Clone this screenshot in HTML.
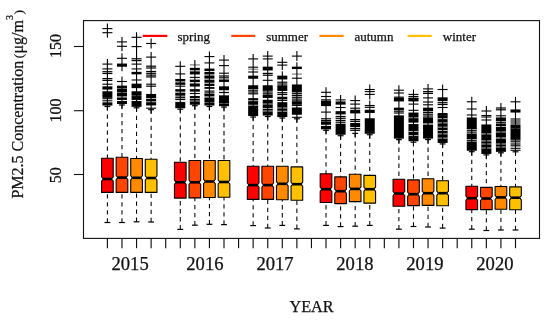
<!DOCTYPE html>
<html><head><meta charset="utf-8"><title>PM2.5 boxplot</title>
<style>
html,body{margin:0;padding:0;background:#fff;}
svg{display:block;}
text{font-family:"Liberation Serif","Times New Roman",serif;fill:#111;stroke:#111;stroke-width:0.25px;}
</style></head><body>
<svg width="550" height="325" viewBox="0 0 550 325">
<rect x="0" y="0" width="550" height="325" fill="#fff"/>
<rect x="83.5" y="20.6" width="456" height="217.8" fill="none" stroke="#111" stroke-width="1.1"/>
<line x1="74" y1="46.5" x2="83.5" y2="46.5" stroke="#111" stroke-width="1.1"/>
<line x1="74" y1="110.7" x2="83.5" y2="110.7" stroke="#111" stroke-width="1.1"/>
<line x1="74" y1="174.5" x2="83.5" y2="174.5" stroke="#111" stroke-width="1.1"/>
<line x1="107.4" y1="238.4" x2="107.4" y2="248.2" stroke="#111" stroke-width="1.15"/>
<line x1="121.98" y1="238.4" x2="121.98" y2="248.2" stroke="#111" stroke-width="1.15"/>
<line x1="136.55" y1="238.4" x2="136.55" y2="248.2" stroke="#111" stroke-width="1.15"/>
<line x1="151.12" y1="238.4" x2="151.12" y2="248.2" stroke="#111" stroke-width="1.15"/>
<line x1="165.7" y1="238.4" x2="165.7" y2="248.2" stroke="#111" stroke-width="1.15"/>
<line x1="180.28" y1="238.4" x2="180.28" y2="248.2" stroke="#111" stroke-width="1.15"/>
<line x1="194.85" y1="238.4" x2="194.85" y2="248.2" stroke="#111" stroke-width="1.15"/>
<line x1="209.43" y1="238.4" x2="209.43" y2="248.2" stroke="#111" stroke-width="1.15"/>
<line x1="224" y1="238.4" x2="224" y2="248.2" stroke="#111" stroke-width="1.15"/>
<line x1="238.57" y1="238.4" x2="238.57" y2="248.2" stroke="#111" stroke-width="1.15"/>
<line x1="253.15" y1="238.4" x2="253.15" y2="248.2" stroke="#111" stroke-width="1.15"/>
<line x1="267.73" y1="238.4" x2="267.73" y2="248.2" stroke="#111" stroke-width="1.15"/>
<line x1="282.3" y1="238.4" x2="282.3" y2="248.2" stroke="#111" stroke-width="1.15"/>
<line x1="296.88" y1="238.4" x2="296.88" y2="248.2" stroke="#111" stroke-width="1.15"/>
<line x1="311.45" y1="238.4" x2="311.45" y2="248.2" stroke="#111" stroke-width="1.15"/>
<line x1="326.02" y1="238.4" x2="326.02" y2="248.2" stroke="#111" stroke-width="1.15"/>
<line x1="340.6" y1="238.4" x2="340.6" y2="248.2" stroke="#111" stroke-width="1.15"/>
<line x1="355.17" y1="238.4" x2="355.17" y2="248.2" stroke="#111" stroke-width="1.15"/>
<line x1="369.75" y1="238.4" x2="369.75" y2="248.2" stroke="#111" stroke-width="1.15"/>
<line x1="384.33" y1="238.4" x2="384.33" y2="248.2" stroke="#111" stroke-width="1.15"/>
<line x1="398.9" y1="238.4" x2="398.9" y2="248.2" stroke="#111" stroke-width="1.15"/>
<line x1="413.48" y1="238.4" x2="413.48" y2="248.2" stroke="#111" stroke-width="1.15"/>
<line x1="428.05" y1="238.4" x2="428.05" y2="248.2" stroke="#111" stroke-width="1.15"/>
<line x1="442.62" y1="238.4" x2="442.62" y2="248.2" stroke="#111" stroke-width="1.15"/>
<line x1="457.2" y1="238.4" x2="457.2" y2="248.2" stroke="#111" stroke-width="1.15"/>
<line x1="471.77" y1="238.4" x2="471.77" y2="248.2" stroke="#111" stroke-width="1.15"/>
<line x1="486.35" y1="238.4" x2="486.35" y2="248.2" stroke="#111" stroke-width="1.15"/>
<line x1="500.92" y1="238.4" x2="500.92" y2="248.2" stroke="#111" stroke-width="1.15"/>
<line x1="515.5" y1="238.4" x2="515.5" y2="248.2" stroke="#111" stroke-width="1.15"/>
<line x1="107.4" y1="222.5" x2="107.4" y2="192.4" stroke="#000" stroke-width="1.05" stroke-dasharray="4.3,3.7"/>
<line x1="107.4" y1="106.5" x2="107.4" y2="158.2" stroke="#000" stroke-width="1.05" stroke-dasharray="4.3,3.7"/>
<line x1="104.48" y1="222.5" x2="110.32" y2="222.5" stroke="#000" stroke-width="1.2"/>
<line x1="104.48" y1="106.5" x2="110.32" y2="106.5" stroke="#000" stroke-width="1.2"/>
<polygon points="101.57,192.4 113.23,192.4 113.23,181.1 111.53,179 113.23,176.9 113.23,158.2 101.57,158.2 101.57,176.9 103.27,179 101.57,181.1" fill="#ff0000" stroke="#000" stroke-width="1.1" stroke-linejoin="round"/>
<line x1="103.27" y1="179" x2="111.53" y2="179" stroke="#000" stroke-width="2.6"/>
<rect x="102.4" y="28.05" width="10" height="1.1" fill="#000"/>
<rect x="102.4" y="32.15" width="10" height="1.1" fill="#000"/>
<rect x="102.4" y="63.55" width="10" height="1.1" fill="#000"/>
<rect x="102.4" y="68.35" width="10" height="1.1" fill="#000"/>
<rect x="102.4" y="71.1" width="10" height="1.2" fill="#000"/>
<rect x="102.4" y="72.9" width="10" height="1.2" fill="#000"/>
<rect x="102.4" y="78" width="10" height="1.2" fill="#000"/>
<rect x="102.4" y="79.8" width="10" height="1.2" fill="#000"/>
<rect x="102.4" y="83.65" width="10" height="1.1" fill="#000"/>
<rect x="102.4" y="86.35" width="10" height="3.2" fill="#000"/>
<rect x="102.4" y="91.25" width="10" height="6.6" fill="#000"/>
<rect x="102.4" y="98.15" width="10" height="1.1" fill="#000"/>
<rect x="102.4" y="100.25" width="10" height="1.1" fill="#000"/>
<rect x="102.4" y="102.35" width="10" height="3.2" fill="#000"/>
<line x1="107.4" y1="23.6" x2="107.4" y2="37.7" stroke="#000" stroke-width="1.1"/>
<line x1="107.4" y1="59.1" x2="107.4" y2="110" stroke="#000" stroke-width="1.1"/>
<line x1="121.98" y1="222.5" x2="121.98" y2="192.4" stroke="#000" stroke-width="1.05" stroke-dasharray="4.3,3.7"/>
<line x1="121.98" y1="105" x2="121.98" y2="157.3" stroke="#000" stroke-width="1.05" stroke-dasharray="4.3,3.7"/>
<line x1="119.06" y1="222.5" x2="124.89" y2="222.5" stroke="#000" stroke-width="1.2"/>
<line x1="119.06" y1="105" x2="124.89" y2="105" stroke="#000" stroke-width="1.2"/>
<polygon points="116.15,192.4 127.81,192.4 127.81,179.7 126.11,177.6 127.81,175.5 127.81,157.3 116.15,157.3 116.15,175.5 117.85,177.6 116.15,179.7" fill="#ff4500" stroke="#000" stroke-width="1.1" stroke-linejoin="round"/>
<line x1="117.85" y1="177.6" x2="126.11" y2="177.6" stroke="#000" stroke-width="2.6"/>
<rect x="116.98" y="41.35" width="10" height="1.1" fill="#000"/>
<rect x="116.98" y="45.75" width="10" height="1.1" fill="#000"/>
<rect x="116.98" y="57.75" width="10" height="1.1" fill="#000"/>
<rect x="116.98" y="63.55" width="10" height="3.2" fill="#000"/>
<rect x="116.98" y="80.95" width="10" height="1.1" fill="#000"/>
<rect x="116.98" y="85.65" width="10" height="2.5" fill="#000"/>
<rect x="116.98" y="88.45" width="10" height="3.9" fill="#000"/>
<rect x="116.98" y="92.65" width="10" height="3.8" fill="#000"/>
<rect x="116.98" y="97.45" width="10" height="2.5" fill="#000"/>
<rect x="116.98" y="100.95" width="10" height="3.1" fill="#000"/>
<line x1="121.98" y1="36.9" x2="121.98" y2="51.3" stroke="#000" stroke-width="1.1"/>
<line x1="121.98" y1="53.3" x2="121.98" y2="71.2" stroke="#000" stroke-width="1.1"/>
<line x1="121.98" y1="76.5" x2="121.98" y2="108.5" stroke="#000" stroke-width="1.1"/>
<line x1="136.55" y1="221.8" x2="136.55" y2="192.4" stroke="#000" stroke-width="1.05" stroke-dasharray="4.3,3.7"/>
<line x1="136.55" y1="107.8" x2="136.55" y2="158.5" stroke="#000" stroke-width="1.05" stroke-dasharray="4.3,3.7"/>
<line x1="133.64" y1="221.8" x2="139.47" y2="221.8" stroke="#000" stroke-width="1.2"/>
<line x1="133.64" y1="107.8" x2="139.47" y2="107.8" stroke="#000" stroke-width="1.2"/>
<polygon points="130.72,192.4 142.38,192.4 142.38,179.9 140.68,177.8 142.38,175.7 142.38,158.5 130.72,158.5 130.72,175.7 132.42,177.8 130.72,179.9" fill="#ff8a00" stroke="#000" stroke-width="1.1" stroke-linejoin="round"/>
<line x1="132.42" y1="177.8" x2="140.68" y2="177.8" stroke="#000" stroke-width="2.6"/>
<rect x="131.55" y="36.75" width="10" height="1.1" fill="#000"/>
<rect x="131.55" y="46.05" width="10" height="1.1" fill="#000"/>
<rect x="131.55" y="58.2" width="10" height="1.2" fill="#000"/>
<rect x="131.55" y="60" width="10" height="1.2" fill="#000"/>
<rect x="131.55" y="63.55" width="10" height="1.1" fill="#000"/>
<rect x="131.55" y="68.35" width="10" height="1.1" fill="#000"/>
<rect x="131.55" y="71.85" width="10" height="2.5" fill="#000"/>
<rect x="131.55" y="79.45" width="10" height="1.1" fill="#000"/>
<rect x="131.55" y="83.65" width="10" height="4.5" fill="#000"/>
<rect x="131.55" y="91.25" width="10" height="4.5" fill="#000"/>
<rect x="131.55" y="96.05" width="10" height="3.9" fill="#000"/>
<rect x="131.55" y="100.95" width="10" height="5.9" fill="#000"/>
<line x1="136.55" y1="32.3" x2="136.55" y2="111.3" stroke="#000" stroke-width="1.1"/>
<line x1="151.12" y1="222" x2="151.12" y2="192.4" stroke="#000" stroke-width="1.05" stroke-dasharray="4.3,3.7"/>
<line x1="151.12" y1="109.7" x2="151.12" y2="159.3" stroke="#000" stroke-width="1.05" stroke-dasharray="4.3,3.7"/>
<line x1="148.21" y1="222" x2="154.04" y2="222" stroke="#000" stroke-width="1.2"/>
<line x1="148.21" y1="109.7" x2="154.04" y2="109.7" stroke="#000" stroke-width="1.2"/>
<polygon points="145.29,192.4 156.96,192.4 156.96,180.1 155.26,178 156.96,175.9 156.96,159.3 145.29,159.3 145.29,175.9 146.99,178 145.29,180.1" fill="#ffc000" stroke="#000" stroke-width="1.1" stroke-linejoin="round"/>
<line x1="146.99" y1="178" x2="155.26" y2="178" stroke="#000" stroke-width="2.6"/>
<rect x="146.12" y="42.95" width="10" height="1.1" fill="#000"/>
<rect x="146.12" y="56.55" width="10" height="1.1" fill="#000"/>
<rect x="146.12" y="65.6" width="10" height="1.2" fill="#000"/>
<rect x="146.12" y="67.4" width="10" height="1.2" fill="#000"/>
<rect x="146.12" y="70.9" width="10" height="1.2" fill="#000"/>
<rect x="146.12" y="72.7" width="10" height="1.2" fill="#000"/>
<rect x="146.12" y="74.5" width="10" height="1.2" fill="#000"/>
<rect x="146.12" y="76.3" width="10" height="1.2" fill="#000"/>
<rect x="146.12" y="83.65" width="10" height="1.1" fill="#000"/>
<rect x="146.12" y="85.6" width="10" height="1.2" fill="#000"/>
<rect x="146.12" y="93.95" width="10" height="11.5" fill="#000"/>
<rect x="146.12" y="107.65" width="10" height="1.1" fill="#000"/>
<rect x="146.12" y="98.05" width="10" height="0.9" fill="#fff" fill-opacity="0.8"/>
<rect x="146.12" y="101.35" width="10" height="0.9" fill="#fff" fill-opacity="0.8"/>
<line x1="151.12" y1="38.5" x2="151.12" y2="48.5" stroke="#000" stroke-width="1.1"/>
<line x1="151.12" y1="52.1" x2="151.12" y2="113.2" stroke="#000" stroke-width="1.1"/>
<line x1="180.28" y1="229.4" x2="180.28" y2="198.1" stroke="#000" stroke-width="1.05" stroke-dasharray="4.3,3.7"/>
<line x1="180.28" y1="109.2" x2="180.28" y2="162.3" stroke="#000" stroke-width="1.05" stroke-dasharray="4.3,3.7"/>
<line x1="177.36" y1="229.4" x2="183.19" y2="229.4" stroke="#000" stroke-width="1.2"/>
<line x1="177.36" y1="109.2" x2="183.19" y2="109.2" stroke="#000" stroke-width="1.2"/>
<polygon points="174.44,198.1 186.11,198.1 186.11,184.4 184.41,182.3 186.11,180.2 186.11,162.3 174.44,162.3 174.44,180.2 176.14,182.3 174.44,184.4" fill="#ff0000" stroke="#000" stroke-width="1.1" stroke-linejoin="round"/>
<line x1="176.14" y1="182.3" x2="184.41" y2="182.3" stroke="#000" stroke-width="2.6"/>
<rect x="175.28" y="65.75" width="10" height="1.1" fill="#000"/>
<rect x="175.28" y="73.35" width="10" height="1.1" fill="#000"/>
<rect x="175.28" y="78.95" width="10" height="2.5" fill="#000"/>
<rect x="175.28" y="82.35" width="10" height="2.5" fill="#000"/>
<rect x="175.28" y="85.65" width="10" height="1.1" fill="#000"/>
<rect x="175.28" y="89.15" width="10" height="2.5" fill="#000"/>
<rect x="175.28" y="92.65" width="10" height="2.4" fill="#000"/>
<rect x="175.28" y="95.3" width="10" height="1.2" fill="#000"/>
<rect x="175.28" y="97.1" width="10" height="1.2" fill="#000"/>
<rect x="175.28" y="98.9" width="10" height="1.2" fill="#000"/>
<rect x="175.28" y="101.65" width="10" height="6.6" fill="#000"/>
<rect x="175.28" y="101.15" width="10" height="0.9" fill="#fff" fill-opacity="0.8"/>
<line x1="180.28" y1="61.3" x2="180.28" y2="112.7" stroke="#000" stroke-width="1.1"/>
<line x1="194.85" y1="225.2" x2="194.85" y2="197.9" stroke="#000" stroke-width="1.05" stroke-dasharray="4.3,3.7"/>
<line x1="194.85" y1="105.7" x2="194.85" y2="160.5" stroke="#000" stroke-width="1.05" stroke-dasharray="4.3,3.7"/>
<line x1="191.94" y1="225.2" x2="197.76" y2="225.2" stroke="#000" stroke-width="1.2"/>
<line x1="191.94" y1="105.7" x2="197.76" y2="105.7" stroke="#000" stroke-width="1.2"/>
<polygon points="189.02,197.9 200.68,197.9 200.68,184.4 198.98,182.3 200.68,180.2 200.68,160.5 189.02,160.5 189.02,180.2 190.72,182.3 189.02,184.4" fill="#ff4500" stroke="#000" stroke-width="1.1" stroke-linejoin="round"/>
<line x1="190.72" y1="182.3" x2="198.98" y2="182.3" stroke="#000" stroke-width="2.6"/>
<rect x="189.85" y="64.35" width="10" height="1.1" fill="#777"/>
<rect x="189.85" y="67.85" width="10" height="2.5" fill="#000"/>
<rect x="189.85" y="71.35" width="10" height="3.1" fill="#000"/>
<rect x="189.85" y="76.85" width="10" height="1.1" fill="#000"/>
<rect x="189.85" y="79.65" width="10" height="2.5" fill="#000"/>
<rect x="189.85" y="83.45" width="10" height="3.1" fill="#000"/>
<rect x="189.85" y="89.15" width="10" height="2.5" fill="#000"/>
<rect x="189.85" y="92.95" width="10" height="1.1" fill="#000"/>
<rect x="189.85" y="96.05" width="10" height="8.7" fill="#000"/>
<rect x="189.85" y="98.05" width="10" height="0.9" fill="#fff" fill-opacity="0.8"/>
<rect x="189.85" y="100.55" width="10" height="0.9" fill="#fff" fill-opacity="0.8"/>
<line x1="194.85" y1="59.9" x2="194.85" y2="109.2" stroke="#000" stroke-width="1.1"/>
<line x1="209.43" y1="224.3" x2="209.43" y2="197.5" stroke="#000" stroke-width="1.05" stroke-dasharray="4.3,3.7"/>
<line x1="209.43" y1="106.5" x2="209.43" y2="160.5" stroke="#000" stroke-width="1.05" stroke-dasharray="4.3,3.7"/>
<line x1="206.51" y1="224.3" x2="212.34" y2="224.3" stroke="#000" stroke-width="1.2"/>
<line x1="206.51" y1="106.5" x2="212.34" y2="106.5" stroke="#000" stroke-width="1.2"/>
<polygon points="203.59,197.5 215.26,197.5 215.26,183.6 213.56,181.5 215.26,179.4 215.26,160.5 203.59,160.5 203.59,179.4 205.29,181.5 203.59,183.6" fill="#ff8a00" stroke="#000" stroke-width="1.1" stroke-linejoin="round"/>
<line x1="205.29" y1="181.5" x2="213.56" y2="181.5" stroke="#000" stroke-width="2.6"/>
<rect x="204.43" y="56.05" width="10" height="1.1" fill="#000"/>
<rect x="204.43" y="62.35" width="10" height="1.1" fill="#000"/>
<rect x="204.43" y="68.55" width="10" height="2.5" fill="#000"/>
<rect x="204.43" y="71.95" width="10" height="2.5" fill="#000"/>
<rect x="204.43" y="75.45" width="10" height="3.2" fill="#000"/>
<rect x="204.43" y="79.65" width="10" height="3.1" fill="#000"/>
<rect x="204.43" y="83.65" width="10" height="2.4" fill="#000"/>
<rect x="204.43" y="87.05" width="10" height="1.8" fill="#000"/>
<rect x="204.43" y="90.5" width="10" height="1.2" fill="#000"/>
<rect x="204.43" y="92.3" width="10" height="1.2" fill="#000"/>
<rect x="204.43" y="93.95" width="10" height="2.5" fill="#000"/>
<rect x="204.43" y="97.45" width="10" height="4.6" fill="#000"/>
<rect x="204.43" y="102.35" width="10" height="3.2" fill="#000"/>
<line x1="209.43" y1="51.6" x2="209.43" y2="110" stroke="#000" stroke-width="1.1"/>
<line x1="224" y1="224.6" x2="224" y2="197.2" stroke="#000" stroke-width="1.05" stroke-dasharray="4.3,3.7"/>
<line x1="224" y1="107.1" x2="224" y2="160.5" stroke="#000" stroke-width="1.05" stroke-dasharray="4.3,3.7"/>
<line x1="221.09" y1="224.6" x2="226.91" y2="224.6" stroke="#000" stroke-width="1.2"/>
<line x1="221.09" y1="107.1" x2="226.91" y2="107.1" stroke="#000" stroke-width="1.2"/>
<polygon points="218.17,197.2 229.83,197.2 229.83,184.1 228.13,182 229.83,179.9 229.83,160.5 218.17,160.5 218.17,179.9 219.87,182 218.17,184.1" fill="#ffc000" stroke="#000" stroke-width="1.1" stroke-linejoin="round"/>
<line x1="219.87" y1="182" x2="228.13" y2="182" stroke="#000" stroke-width="2.6"/>
<rect x="219" y="59.55" width="10" height="1.1" fill="#000"/>
<rect x="219" y="65.05" width="10" height="1.1" fill="#000"/>
<rect x="219" y="72.65" width="10" height="1.1" fill="#000"/>
<rect x="219" y="75.4" width="10" height="1.2" fill="#000"/>
<rect x="219" y="77.2" width="10" height="1.2" fill="#000"/>
<rect x="219" y="79.45" width="10" height="2.5" fill="#000"/>
<rect x="219" y="86.35" width="10" height="3.9" fill="#000"/>
<rect x="219" y="91.9" width="10" height="1.2" fill="#000"/>
<rect x="219" y="95.35" width="10" height="8.1" fill="#000"/>
<rect x="219" y="103.65" width="10" height="2.5" fill="#000"/>
<line x1="224" y1="55.1" x2="224" y2="110.6" stroke="#000" stroke-width="1.1"/>
<line x1="253.15" y1="225.6" x2="253.15" y2="199.4" stroke="#000" stroke-width="1.05" stroke-dasharray="4.3,3.7"/>
<line x1="253.15" y1="117" x2="253.15" y2="166.2" stroke="#000" stroke-width="1.05" stroke-dasharray="4.3,3.7"/>
<line x1="250.24" y1="225.6" x2="256.06" y2="225.6" stroke="#000" stroke-width="1.2"/>
<line x1="250.24" y1="117" x2="256.06" y2="117" stroke="#000" stroke-width="1.2"/>
<polygon points="247.32,199.4 258.98,199.4 258.98,187.2 257.28,185.1 258.98,183 258.98,166.2 247.32,166.2 247.32,183 249.02,185.1 247.32,187.2" fill="#ff0000" stroke="#000" stroke-width="1.1" stroke-linejoin="round"/>
<line x1="249.02" y1="185.1" x2="257.28" y2="185.1" stroke="#000" stroke-width="2.6"/>
<rect x="248.15" y="58.35" width="10" height="1.1" fill="#000"/>
<rect x="248.15" y="66.65" width="10" height="1.1" fill="#000"/>
<rect x="248.15" y="68.65" width="10" height="1.1" fill="#777"/>
<rect x="248.15" y="71.45" width="10" height="1.1" fill="#000"/>
<rect x="248.15" y="75.65" width="10" height="3.1" fill="#000"/>
<rect x="248.15" y="85.25" width="10" height="3.7" fill="#000"/>
<rect x="248.15" y="87.8" width="10" height="1.2" fill="#000"/>
<rect x="248.15" y="89.6" width="10" height="1.2" fill="#000"/>
<rect x="248.15" y="91.4" width="10" height="1.2" fill="#000"/>
<rect x="248.15" y="93.2" width="10" height="1.2" fill="#000"/>
<rect x="248.15" y="98.15" width="10" height="17.9" fill="#000"/>
<rect x="248.15" y="100.25" width="10" height="0.9" fill="#fff" fill-opacity="0.8"/>
<rect x="248.15" y="104.75" width="10" height="0.9" fill="#fff" fill-opacity="0.8"/>
<line x1="253.15" y1="53.9" x2="253.15" y2="120.5" stroke="#000" stroke-width="1.1"/>
<line x1="267.73" y1="228" x2="267.73" y2="199.4" stroke="#000" stroke-width="1.05" stroke-dasharray="4.3,3.7"/>
<line x1="267.73" y1="116.5" x2="267.73" y2="166.2" stroke="#000" stroke-width="1.05" stroke-dasharray="4.3,3.7"/>
<line x1="264.81" y1="228" x2="270.64" y2="228" stroke="#000" stroke-width="1.2"/>
<line x1="264.81" y1="116.5" x2="270.64" y2="116.5" stroke="#000" stroke-width="1.2"/>
<polygon points="261.9,199.4 273.56,199.4 273.56,187.2 271.86,185.1 273.56,183 273.56,166.2 261.9,166.2 261.9,183 263.6,185.1 261.9,187.2" fill="#ff4500" stroke="#000" stroke-width="1.1" stroke-linejoin="round"/>
<line x1="263.6" y1="185.1" x2="271.86" y2="185.1" stroke="#000" stroke-width="2.6"/>
<rect x="262.73" y="55.55" width="10" height="1.1" fill="#000"/>
<rect x="262.73" y="58.35" width="10" height="1.1" fill="#000"/>
<rect x="262.73" y="66.65" width="10" height="3.8" fill="#000"/>
<rect x="262.73" y="72.8" width="10" height="1.2" fill="#000"/>
<rect x="262.73" y="74.6" width="10" height="1.2" fill="#000"/>
<rect x="262.73" y="79.75" width="10" height="1.1" fill="#000"/>
<rect x="262.73" y="85.25" width="10" height="5" fill="#000"/>
<rect x="262.73" y="89.6" width="10" height="1.2" fill="#000"/>
<rect x="262.73" y="91.4" width="10" height="1.2" fill="#000"/>
<rect x="262.73" y="93.2" width="10" height="1.2" fill="#000"/>
<rect x="262.73" y="94.65" width="10" height="3.3" fill="#000"/>
<rect x="262.73" y="99.75" width="10" height="15.8" fill="#000"/>
<rect x="262.73" y="103.55" width="10" height="0.9" fill="#fff" fill-opacity="0.8"/>
<rect x="262.73" y="107.95" width="10" height="0.9" fill="#fff" fill-opacity="0.8"/>
<rect x="262.73" y="110.55" width="10" height="0.9" fill="#fff" fill-opacity="0.8"/>
<line x1="267.73" y1="51.1" x2="267.73" y2="120" stroke="#000" stroke-width="1.1"/>
<line x1="282.3" y1="225.4" x2="282.3" y2="199.7" stroke="#000" stroke-width="1.05" stroke-dasharray="4.3,3.7"/>
<line x1="282.3" y1="118" x2="282.3" y2="166.2" stroke="#000" stroke-width="1.05" stroke-dasharray="4.3,3.7"/>
<line x1="279.38" y1="225.4" x2="285.21" y2="225.4" stroke="#000" stroke-width="1.2"/>
<line x1="279.38" y1="118" x2="285.21" y2="118" stroke="#000" stroke-width="1.2"/>
<polygon points="276.47,199.7 288.13,199.7 288.13,185.9 286.43,183.8 288.13,181.7 288.13,166.2 276.47,166.2 276.47,181.7 278.17,183.8 276.47,185.9" fill="#ff8a00" stroke="#000" stroke-width="1.1" stroke-linejoin="round"/>
<line x1="278.17" y1="183.8" x2="286.43" y2="183.8" stroke="#000" stroke-width="2.6"/>
<rect x="277.3" y="61.75" width="10" height="1.1" fill="#000"/>
<rect x="277.3" y="64.55" width="10" height="1.1" fill="#000"/>
<rect x="277.3" y="75.65" width="10" height="3.8" fill="#000"/>
<rect x="277.3" y="81.6" width="10" height="1.2" fill="#000"/>
<rect x="277.3" y="83.4" width="10" height="1.2" fill="#000"/>
<rect x="277.3" y="85.25" width="10" height="5.7" fill="#000"/>
<rect x="277.3" y="92.1" width="10" height="1.2" fill="#000"/>
<rect x="277.3" y="93.9" width="10" height="1.2" fill="#000"/>
<rect x="277.3" y="96.75" width="10" height="2.6" fill="#000"/>
<rect x="277.3" y="99.85" width="10" height="1.1" fill="#000"/>
<rect x="277.3" y="102.15" width="10" height="14.9" fill="#000"/>
<rect x="277.3" y="107.55" width="10" height="0.9" fill="#fff" fill-opacity="0.8"/>
<rect x="277.3" y="110.75" width="10" height="0.9" fill="#fff" fill-opacity="0.8"/>
<line x1="282.3" y1="57.3" x2="282.3" y2="70.1" stroke="#000" stroke-width="1.1"/>
<line x1="282.3" y1="71.2" x2="282.3" y2="121.5" stroke="#000" stroke-width="1.1"/>
<line x1="296.88" y1="228.9" x2="296.88" y2="200.3" stroke="#000" stroke-width="1.05" stroke-dasharray="4.3,3.7"/>
<line x1="296.88" y1="118.8" x2="296.88" y2="166.9" stroke="#000" stroke-width="1.05" stroke-dasharray="4.3,3.7"/>
<line x1="293.96" y1="228.9" x2="299.79" y2="228.9" stroke="#000" stroke-width="1.2"/>
<line x1="293.96" y1="118.8" x2="299.79" y2="118.8" stroke="#000" stroke-width="1.2"/>
<polygon points="291.05,200.3 302.7,200.3 302.7,186.3 301,184.2 302.7,182.1 302.7,166.9 291.05,166.9 291.05,182.1 292.75,184.2 291.05,186.3" fill="#ffc000" stroke="#000" stroke-width="1.1" stroke-linejoin="round"/>
<line x1="292.75" y1="184.2" x2="301" y2="184.2" stroke="#000" stroke-width="2.6"/>
<rect x="291.88" y="55.55" width="10" height="1.1" fill="#000"/>
<rect x="291.88" y="66.65" width="10" height="2.4" fill="#000"/>
<rect x="291.88" y="73.55" width="10" height="1.1" fill="#777"/>
<rect x="291.88" y="77.65" width="10" height="1.1" fill="#000"/>
<rect x="291.88" y="84.45" width="10" height="7.3" fill="#000"/>
<rect x="291.88" y="91.3" width="10" height="1.2" fill="#000"/>
<rect x="291.88" y="93.1" width="10" height="1.2" fill="#000"/>
<rect x="291.88" y="94.9" width="10" height="1.2" fill="#000"/>
<rect x="291.88" y="96.7" width="10" height="1.2" fill="#000"/>
<rect x="291.88" y="98.5" width="10" height="1.2" fill="#000"/>
<rect x="291.88" y="100.3" width="10" height="1.2" fill="#000"/>
<rect x="291.88" y="101.35" width="10" height="3.4" fill="#000"/>
<rect x="291.88" y="104.85" width="10" height="1.1" fill="#000"/>
<rect x="291.88" y="107.45" width="10" height="7.3" fill="#000"/>
<rect x="291.88" y="116.75" width="10" height="1.1" fill="#000"/>
<line x1="296.88" y1="51.1" x2="296.88" y2="61.1" stroke="#000" stroke-width="1.1"/>
<line x1="296.88" y1="62.2" x2="296.88" y2="122.3" stroke="#000" stroke-width="1.1"/>
<line x1="326.02" y1="225.4" x2="326.02" y2="202.5" stroke="#000" stroke-width="1.05" stroke-dasharray="4.3,3.7"/>
<line x1="326.02" y1="130.3" x2="326.02" y2="173.8" stroke="#000" stroke-width="1.05" stroke-dasharray="4.3,3.7"/>
<line x1="323.11" y1="225.4" x2="328.94" y2="225.4" stroke="#000" stroke-width="1.2"/>
<line x1="323.11" y1="130.3" x2="328.94" y2="130.3" stroke="#000" stroke-width="1.2"/>
<polygon points="320.19,202.5 331.85,202.5 331.85,191.3 330.15,189.2 331.85,187.1 331.85,173.8 320.19,173.8 320.19,187.1 321.89,189.2 320.19,191.3" fill="#ff0000" stroke="#000" stroke-width="1.1" stroke-linejoin="round"/>
<line x1="321.89" y1="189.2" x2="330.15" y2="189.2" stroke="#000" stroke-width="2.6"/>
<rect x="321.02" y="91.75" width="10" height="1.1" fill="#000"/>
<rect x="321.02" y="95.95" width="10" height="1.1" fill="#000"/>
<rect x="321.02" y="99.3" width="10" height="1.2" fill="#000"/>
<rect x="321.02" y="100.75" width="10" height="4.6" fill="#000"/>
<rect x="321.02" y="104.9" width="10" height="1.2" fill="#000"/>
<rect x="321.02" y="111.55" width="10" height="1.1" fill="#000"/>
<rect x="321.02" y="118.2" width="10" height="1.2" fill="#000"/>
<rect x="321.02" y="120" width="10" height="1.2" fill="#000"/>
<rect x="321.02" y="121.45" width="10" height="2.6" fill="#000"/>
<rect x="321.02" y="123.6" width="10" height="1.2" fill="#000"/>
<rect x="321.02" y="125.95" width="10" height="3.4" fill="#000"/>
<line x1="326.02" y1="87.3" x2="326.02" y2="133.8" stroke="#000" stroke-width="1.1"/>
<line x1="340.6" y1="226.6" x2="340.6" y2="203.6" stroke="#000" stroke-width="1.05" stroke-dasharray="4.3,3.7"/>
<line x1="340.6" y1="135.7" x2="340.6" y2="176.9" stroke="#000" stroke-width="1.05" stroke-dasharray="4.3,3.7"/>
<line x1="337.69" y1="226.6" x2="343.52" y2="226.6" stroke="#000" stroke-width="1.2"/>
<line x1="337.69" y1="135.7" x2="343.52" y2="135.7" stroke="#000" stroke-width="1.2"/>
<polygon points="334.77,203.6 346.43,203.6 346.43,193.3 344.73,191.2 346.43,189.1 346.43,176.9 334.77,176.9 334.77,189.1 336.47,191.2 334.77,193.3" fill="#ff4500" stroke="#000" stroke-width="1.1" stroke-linejoin="round"/>
<line x1="336.47" y1="191.2" x2="344.73" y2="191.2" stroke="#000" stroke-width="2.6"/>
<rect x="335.6" y="99.35" width="10" height="1.1" fill="#000"/>
<rect x="335.6" y="101.45" width="10" height="3.2" fill="#000"/>
<rect x="335.6" y="106.95" width="10" height="1.1" fill="#000"/>
<rect x="335.6" y="111.15" width="10" height="2.6" fill="#000"/>
<rect x="335.6" y="113.2" width="10" height="1.2" fill="#000"/>
<rect x="335.6" y="115.9" width="10" height="1.2" fill="#000"/>
<rect x="335.6" y="117.7" width="10" height="1.2" fill="#000"/>
<rect x="335.6" y="119.8" width="10" height="1.2" fill="#000"/>
<rect x="335.6" y="121.6" width="10" height="1.2" fill="#000"/>
<rect x="335.6" y="123.65" width="10" height="11.1" fill="#000"/>
<line x1="340.6" y1="94.9" x2="340.6" y2="139.2" stroke="#000" stroke-width="1.1"/>
<line x1="355.17" y1="226.2" x2="355.17" y2="201.6" stroke="#000" stroke-width="1.05" stroke-dasharray="4.3,3.7"/>
<line x1="355.17" y1="133.4" x2="355.17" y2="174.3" stroke="#000" stroke-width="1.05" stroke-dasharray="4.3,3.7"/>
<line x1="352.26" y1="226.2" x2="358.09" y2="226.2" stroke="#000" stroke-width="1.2"/>
<line x1="352.26" y1="133.4" x2="358.09" y2="133.4" stroke="#000" stroke-width="1.2"/>
<polygon points="349.34,201.6 361,201.6 361,191 359.3,188.9 361,186.8 361,174.3 349.34,174.3 349.34,186.8 351.04,188.9 349.34,191" fill="#ff8a00" stroke="#000" stroke-width="1.1" stroke-linejoin="round"/>
<line x1="351.04" y1="188.9" x2="359.3" y2="188.9" stroke="#000" stroke-width="2.6"/>
<rect x="350.17" y="100.05" width="10" height="1.1" fill="#000"/>
<rect x="350.17" y="103.55" width="10" height="1.1" fill="#000"/>
<rect x="350.17" y="107.65" width="10" height="1.1" fill="#000"/>
<rect x="350.17" y="109.75" width="10" height="3.2" fill="#000"/>
<rect x="350.17" y="112.2" width="10" height="1.2" fill="#000"/>
<rect x="350.17" y="119" width="10" height="1.2" fill="#000"/>
<rect x="350.17" y="120.8" width="10" height="1.2" fill="#000"/>
<rect x="350.17" y="122.95" width="10" height="4.1" fill="#000"/>
<rect x="350.17" y="127.9" width="10" height="1.2" fill="#000"/>
<rect x="350.17" y="129.7" width="10" height="1.2" fill="#000"/>
<line x1="355.17" y1="95.6" x2="355.17" y2="136.9" stroke="#000" stroke-width="1.1"/>
<line x1="369.75" y1="225.4" x2="369.75" y2="203.1" stroke="#000" stroke-width="1.05" stroke-dasharray="4.3,3.7"/>
<line x1="369.75" y1="134.7" x2="369.75" y2="175.4" stroke="#000" stroke-width="1.05" stroke-dasharray="4.3,3.7"/>
<line x1="366.83" y1="225.4" x2="372.67" y2="225.4" stroke="#000" stroke-width="1.2"/>
<line x1="366.83" y1="134.7" x2="372.67" y2="134.7" stroke="#000" stroke-width="1.2"/>
<polygon points="363.92,203.1 375.58,203.1 375.58,191.3 373.88,189.2 375.58,187.1 375.58,175.4 363.92,175.4 363.92,187.1 365.62,189.2 363.92,191.3" fill="#ffc000" stroke="#000" stroke-width="1.1" stroke-linejoin="round"/>
<line x1="365.62" y1="189.2" x2="373.88" y2="189.2" stroke="#000" stroke-width="2.6"/>
<rect x="364.75" y="88.95" width="10" height="1.1" fill="#000"/>
<rect x="364.75" y="91.05" width="10" height="1.1" fill="#000"/>
<rect x="364.75" y="93.85" width="10" height="1.1" fill="#000"/>
<rect x="364.75" y="104.95" width="10" height="1.1" fill="#000"/>
<rect x="364.75" y="106.7" width="10" height="1.2" fill="#000"/>
<rect x="364.75" y="109.75" width="10" height="3.2" fill="#000"/>
<rect x="364.75" y="118.25" width="10" height="13.5" fill="#000"/>
<rect x="364.75" y="131.35" width="10" height="2.4" fill="#000"/>
<line x1="369.75" y1="84.5" x2="369.75" y2="99.4" stroke="#000" stroke-width="1.1"/>
<line x1="369.75" y1="100.5" x2="369.75" y2="138.2" stroke="#000" stroke-width="1.1"/>
<line x1="398.9" y1="229.2" x2="398.9" y2="206.3" stroke="#000" stroke-width="1.05" stroke-dasharray="4.3,3.7"/>
<line x1="398.9" y1="139.6" x2="398.9" y2="179.2" stroke="#000" stroke-width="1.05" stroke-dasharray="4.3,3.7"/>
<line x1="395.98" y1="229.2" x2="401.81" y2="229.2" stroke="#000" stroke-width="1.2"/>
<line x1="395.98" y1="139.6" x2="401.81" y2="139.6" stroke="#000" stroke-width="1.2"/>
<polygon points="393.07,206.3 404.73,206.3 404.73,195.6 403.03,193.5 404.73,191.4 404.73,179.2 393.07,179.2 393.07,191.4 394.77,193.5 393.07,195.6" fill="#ff0000" stroke="#000" stroke-width="1.1" stroke-linejoin="round"/>
<line x1="394.77" y1="193.5" x2="403.03" y2="193.5" stroke="#000" stroke-width="2.6"/>
<rect x="393.9" y="89.65" width="10" height="1.1" fill="#000"/>
<rect x="393.9" y="92.45" width="10" height="1.1" fill="#000"/>
<rect x="393.9" y="96.6" width="10" height="1.2" fill="#000"/>
<rect x="393.9" y="97.95" width="10" height="3.1" fill="#000"/>
<rect x="393.9" y="100.2" width="10" height="1.2" fill="#000"/>
<rect x="393.9" y="107.65" width="10" height="2.5" fill="#000"/>
<rect x="393.9" y="110.6" width="10" height="1.2" fill="#000"/>
<rect x="393.9" y="112.4" width="10" height="1.2" fill="#000"/>
<rect x="393.9" y="115.35" width="10" height="23.3" fill="#000"/>
<line x1="398.9" y1="85.2" x2="398.9" y2="143.1" stroke="#000" stroke-width="1.1"/>
<line x1="413.48" y1="226.5" x2="413.48" y2="205.6" stroke="#000" stroke-width="1.05" stroke-dasharray="4.3,3.7"/>
<line x1="413.48" y1="142.2" x2="413.48" y2="179.9" stroke="#000" stroke-width="1.05" stroke-dasharray="4.3,3.7"/>
<line x1="410.56" y1="226.5" x2="416.39" y2="226.5" stroke="#000" stroke-width="1.2"/>
<line x1="410.56" y1="142.2" x2="416.39" y2="142.2" stroke="#000" stroke-width="1.2"/>
<polygon points="407.65,205.6 419.31,205.6 419.31,196.3 417.61,194.2 419.31,192.1 419.31,179.9 407.65,179.9 407.65,192.1 409.35,194.2 407.65,196.3" fill="#ff4500" stroke="#000" stroke-width="1.1" stroke-linejoin="round"/>
<line x1="409.35" y1="194.2" x2="417.61" y2="194.2" stroke="#000" stroke-width="2.6"/>
<rect x="408.48" y="93.85" width="10" height="1.1" fill="#000"/>
<rect x="408.48" y="95.9" width="10" height="1.2" fill="#000"/>
<rect x="408.48" y="97.7" width="10" height="1.2" fill="#000"/>
<rect x="408.48" y="97.95" width="10" height="3.1" fill="#000"/>
<rect x="408.48" y="100.2" width="10" height="1.2" fill="#000"/>
<rect x="408.48" y="103.55" width="10" height="1.1" fill="#000"/>
<rect x="408.48" y="109.75" width="10" height="1.1" fill="#000"/>
<rect x="408.48" y="112.55" width="10" height="5" fill="#000"/>
<rect x="408.48" y="118.15" width="10" height="4.5" fill="#000"/>
<rect x="408.48" y="124.05" width="10" height="17.2" fill="#000"/>
<rect x="408.48" y="130.95" width="10" height="0.9" fill="#fff" fill-opacity="0.8"/>
<rect x="408.48" y="135.15" width="10" height="0.9" fill="#fff" fill-opacity="0.8"/>
<line x1="413.48" y1="89.4" x2="413.48" y2="145.7" stroke="#000" stroke-width="1.1"/>
<line x1="428.05" y1="227" x2="428.05" y2="205.4" stroke="#000" stroke-width="1.05" stroke-dasharray="4.3,3.7"/>
<line x1="428.05" y1="139.6" x2="428.05" y2="178.8" stroke="#000" stroke-width="1.05" stroke-dasharray="4.3,3.7"/>
<line x1="425.13" y1="227" x2="430.96" y2="227" stroke="#000" stroke-width="1.2"/>
<line x1="425.13" y1="139.6" x2="430.96" y2="139.6" stroke="#000" stroke-width="1.2"/>
<polygon points="422.22,205.4 433.88,205.4 433.88,195.3 432.18,193.2 433.88,191.1 433.88,178.8 422.22,178.8 422.22,191.1 423.92,193.2 422.22,195.3" fill="#ff8a00" stroke="#000" stroke-width="1.1" stroke-linejoin="round"/>
<line x1="423.92" y1="193.2" x2="432.18" y2="193.2" stroke="#000" stroke-width="2.6"/>
<rect x="423.05" y="88.35" width="10" height="1.1" fill="#000"/>
<rect x="423.05" y="91" width="10" height="1.2" fill="#000"/>
<rect x="423.05" y="92.8" width="10" height="1.2" fill="#000"/>
<rect x="423.05" y="97.35" width="10" height="1.1" fill="#000"/>
<rect x="423.05" y="101.45" width="10" height="1.1" fill="#000"/>
<rect x="423.05" y="104.25" width="10" height="1.1" fill="#000"/>
<rect x="423.05" y="107.65" width="10" height="2.9" fill="#000"/>
<rect x="423.05" y="110" width="10" height="1.2" fill="#000"/>
<rect x="423.05" y="111.8" width="10" height="1.2" fill="#000"/>
<rect x="423.05" y="113.6" width="10" height="1.2" fill="#000"/>
<rect x="423.05" y="115.4" width="10" height="1.2" fill="#000"/>
<rect x="423.05" y="117.25" width="10" height="6.2" fill="#000"/>
<rect x="423.05" y="124.55" width="10" height="14.1" fill="#000"/>
<line x1="428.05" y1="83.9" x2="428.05" y2="143.1" stroke="#000" stroke-width="1.1"/>
<line x1="442.62" y1="228.1" x2="442.62" y2="205.8" stroke="#000" stroke-width="1.05" stroke-dasharray="4.3,3.7"/>
<line x1="442.62" y1="143.9" x2="442.62" y2="180.8" stroke="#000" stroke-width="1.05" stroke-dasharray="4.3,3.7"/>
<line x1="439.71" y1="228.1" x2="445.54" y2="228.1" stroke="#000" stroke-width="1.2"/>
<line x1="439.71" y1="143.9" x2="445.54" y2="143.9" stroke="#000" stroke-width="1.2"/>
<polygon points="436.8,205.8 448.45,205.8 448.45,195.3 446.75,193.2 448.45,191.1 448.45,180.8 436.8,180.8 436.8,191.1 438.5,193.2 436.8,195.3" fill="#ffc000" stroke="#000" stroke-width="1.1" stroke-linejoin="round"/>
<line x1="438.5" y1="193.2" x2="446.75" y2="193.2" stroke="#000" stroke-width="2.6"/>
<rect x="437.62" y="88.95" width="10" height="1.1" fill="#000"/>
<rect x="437.62" y="97.35" width="10" height="3.8" fill="#000"/>
<rect x="437.62" y="102.1" width="10" height="1.2" fill="#000"/>
<rect x="437.62" y="103.9" width="10" height="1.2" fill="#000"/>
<rect x="437.62" y="106.95" width="10" height="1.1" fill="#000"/>
<rect x="437.62" y="113.05" width="10" height="2.8" fill="#000"/>
<rect x="437.62" y="115.65" width="10" height="27.3" fill="#000"/>
<rect x="437.62" y="118.25" width="10" height="0.9" fill="#fff" fill-opacity="0.8"/>
<rect x="437.62" y="122.45" width="10" height="0.9" fill="#fff" fill-opacity="0.8"/>
<rect x="437.62" y="126.65" width="10" height="0.9" fill="#fff" fill-opacity="0.8"/>
<rect x="437.62" y="130.05" width="10" height="0.9" fill="#fff" fill-opacity="0.8"/>
<rect x="437.62" y="133.45" width="10" height="0.9" fill="#fff" fill-opacity="0.8"/>
<rect x="437.62" y="137.65" width="10" height="0.9" fill="#fff" fill-opacity="0.8"/>
<line x1="442.62" y1="84.5" x2="442.62" y2="147.4" stroke="#000" stroke-width="1.1"/>
<line x1="471.77" y1="229.2" x2="471.77" y2="209.6" stroke="#000" stroke-width="1.05" stroke-dasharray="4.3,3.7"/>
<line x1="471.77" y1="151.7" x2="471.77" y2="186.2" stroke="#000" stroke-width="1.05" stroke-dasharray="4.3,3.7"/>
<line x1="468.86" y1="229.2" x2="474.69" y2="229.2" stroke="#000" stroke-width="1.2"/>
<line x1="468.86" y1="151.7" x2="474.69" y2="151.7" stroke="#000" stroke-width="1.2"/>
<polygon points="465.94,209.6 477.6,209.6 477.6,200.3 475.9,198.2 477.6,196.1 477.6,186.2 465.94,186.2 465.94,196.1 467.64,198.2 465.94,200.3" fill="#ff0000" stroke="#000" stroke-width="1.1" stroke-linejoin="round"/>
<line x1="467.64" y1="198.2" x2="475.9" y2="198.2" stroke="#000" stroke-width="2.6"/>
<rect x="466.77" y="101.25" width="10" height="1.1" fill="#000"/>
<rect x="466.77" y="108.45" width="10" height="1.1" fill="#000"/>
<rect x="466.77" y="114.45" width="10" height="1.1" fill="#000"/>
<rect x="466.77" y="117.45" width="10" height="11.1" fill="#000"/>
<rect x="466.77" y="127.9" width="10" height="1.2" fill="#000"/>
<rect x="466.77" y="129.7" width="10" height="1.2" fill="#000"/>
<rect x="466.77" y="131.5" width="10" height="1.2" fill="#000"/>
<rect x="466.77" y="133.45" width="10" height="5.1" fill="#000"/>
<rect x="466.77" y="137.9" width="10" height="1.2" fill="#000"/>
<rect x="466.77" y="139.7" width="10" height="1.2" fill="#000"/>
<rect x="466.77" y="141.45" width="10" height="9.3" fill="#000"/>
<line x1="471.77" y1="96.8" x2="471.77" y2="155.2" stroke="#000" stroke-width="1.1"/>
<line x1="486.35" y1="230.5" x2="486.35" y2="209.6" stroke="#000" stroke-width="1.05" stroke-dasharray="4.3,3.7"/>
<line x1="486.35" y1="154.9" x2="486.35" y2="187.4" stroke="#000" stroke-width="1.05" stroke-dasharray="4.3,3.7"/>
<line x1="483.44" y1="230.5" x2="489.27" y2="230.5" stroke="#000" stroke-width="1.2"/>
<line x1="483.44" y1="154.9" x2="489.27" y2="154.9" stroke="#000" stroke-width="1.2"/>
<polygon points="480.52,209.6 492.18,209.6 492.18,200.6 490.48,198.5 492.18,196.4 492.18,187.4 480.52,187.4 480.52,196.4 482.22,198.5 480.52,200.6" fill="#ff4500" stroke="#000" stroke-width="1.1" stroke-linejoin="round"/>
<line x1="482.22" y1="198.5" x2="490.48" y2="198.5" stroke="#000" stroke-width="2.6"/>
<rect x="481.35" y="110.45" width="10" height="1.1" fill="#000"/>
<rect x="481.35" y="114.95" width="10" height="1.1" fill="#000"/>
<rect x="481.35" y="116.45" width="10" height="1.1" fill="#000"/>
<rect x="481.35" y="119.45" width="10" height="1.1" fill="#000"/>
<rect x="481.35" y="124.45" width="10" height="9.1" fill="#000"/>
<rect x="481.35" y="133.45" width="10" height="1.1" fill="#777"/>
<rect x="481.35" y="134.45" width="10" height="6.1" fill="#000"/>
<rect x="481.35" y="140.45" width="10" height="1.1" fill="#777"/>
<rect x="481.35" y="141.45" width="10" height="12.5" fill="#000"/>
<rect x="481.35" y="143.55" width="10" height="0.9" fill="#fff" fill-opacity="0.8"/>
<rect x="481.35" y="147.55" width="10" height="0.9" fill="#fff" fill-opacity="0.8"/>
<line x1="486.35" y1="106" x2="486.35" y2="158.4" stroke="#000" stroke-width="1.1"/>
<line x1="500.92" y1="230" x2="500.92" y2="209.2" stroke="#000" stroke-width="1.05" stroke-dasharray="4.3,3.7"/>
<line x1="500.92" y1="152.8" x2="500.92" y2="186.5" stroke="#000" stroke-width="1.05" stroke-dasharray="4.3,3.7"/>
<line x1="498.01" y1="230" x2="503.84" y2="230" stroke="#000" stroke-width="1.2"/>
<line x1="498.01" y1="152.8" x2="503.84" y2="152.8" stroke="#000" stroke-width="1.2"/>
<polygon points="495.09,209.2 506.75,209.2 506.75,199.5 505.05,197.4 506.75,195.3 506.75,186.5 495.09,186.5 495.09,195.3 496.79,197.4 495.09,199.5" fill="#ff8a00" stroke="#000" stroke-width="1.1" stroke-linejoin="round"/>
<line x1="496.79" y1="197.4" x2="505.05" y2="197.4" stroke="#000" stroke-width="2.6"/>
<rect x="495.92" y="107.4" width="10" height="1.2" fill="#000"/>
<rect x="495.92" y="109.2" width="10" height="1.2" fill="#000"/>
<rect x="495.92" y="115.25" width="10" height="1.1" fill="#000"/>
<rect x="495.92" y="117.45" width="10" height="3.1" fill="#000"/>
<rect x="495.92" y="119.9" width="10" height="1.2" fill="#000"/>
<rect x="495.92" y="121.7" width="10" height="1.2" fill="#000"/>
<rect x="495.92" y="123.45" width="10" height="14.1" fill="#000"/>
<rect x="495.92" y="138.45" width="10" height="13.4" fill="#000"/>
<rect x="495.92" y="126.05" width="10" height="0.9" fill="#fff" fill-opacity="0.8"/>
<rect x="495.92" y="131.55" width="10" height="0.9" fill="#fff" fill-opacity="0.8"/>
<rect x="495.92" y="143.55" width="10" height="0.9" fill="#fff" fill-opacity="0.8"/>
<rect x="495.92" y="146.55" width="10" height="0.9" fill="#fff" fill-opacity="0.8"/>
<line x1="500.92" y1="103" x2="500.92" y2="156.3" stroke="#000" stroke-width="1.1"/>
<line x1="515.5" y1="230" x2="515.5" y2="209.7" stroke="#000" stroke-width="1.05" stroke-dasharray="4.3,3.7"/>
<line x1="515.5" y1="151.8" x2="515.5" y2="186.9" stroke="#000" stroke-width="1.05" stroke-dasharray="4.3,3.7"/>
<line x1="512.59" y1="230" x2="518.41" y2="230" stroke="#000" stroke-width="1.2"/>
<line x1="512.59" y1="151.8" x2="518.41" y2="151.8" stroke="#000" stroke-width="1.2"/>
<polygon points="509.67,209.7 521.33,209.7 521.33,199.8 519.63,197.7 521.33,195.6 521.33,186.9 509.67,186.9 509.67,195.6 511.37,197.7 509.67,199.8" fill="#ffc000" stroke="#000" stroke-width="1.1" stroke-linejoin="round"/>
<line x1="511.37" y1="197.7" x2="519.63" y2="197.7" stroke="#000" stroke-width="2.6"/>
<rect x="510.5" y="101.25" width="10" height="1.1" fill="#000"/>
<rect x="510.5" y="109.45" width="10" height="3.1" fill="#000"/>
<rect x="510.5" y="118.45" width="10" height="1.1" fill="#000"/>
<rect x="510.5" y="120.45" width="10" height="1.1" fill="#000"/>
<rect x="510.5" y="122.45" width="10" height="1.1" fill="#000"/>
<rect x="510.5" y="124.45" width="10" height="4.1" fill="#000"/>
<rect x="510.5" y="128.45" width="10" height="11.1" fill="#000"/>
<rect x="510.5" y="139.4" width="10" height="1.2" fill="#000"/>
<rect x="510.5" y="141.2" width="10" height="1.2" fill="#000"/>
<rect x="510.5" y="143.4" width="10" height="1.2" fill="#000"/>
<rect x="510.5" y="145.2" width="10" height="1.2" fill="#000"/>
<rect x="510.5" y="147.75" width="10" height="1.1" fill="#000"/>
<rect x="510.5" y="149.75" width="10" height="1.1" fill="#000"/>
<line x1="515.5" y1="96.8" x2="515.5" y2="155.3" stroke="#000" stroke-width="1.1"/>
<g font-size="13">
<line x1="142.7" y1="35.9" x2="167.3" y2="35.9" stroke="#ff0000" stroke-width="2.2"/>
<text x="177.5" y="41">spring</text>
<line x1="231.3" y1="35.9" x2="255.2" y2="35.9" stroke="#ff4500" stroke-width="2.2"/>
<text x="266.2" y="41">summer</text>
<line x1="319.5" y1="35.9" x2="343.7" y2="35.9" stroke="#ff8a00" stroke-width="2.2"/>
<text x="354.4" y="41">autumn</text>
<line x1="407.6" y1="35.9" x2="431.8" y2="35.9" stroke="#ffc000" stroke-width="2.2"/>
<text x="442.8" y="41">winter</text>
</g>
<g font-size="18.6" text-anchor="middle">
<text x="130.1" y="269.6">2015</text>
<text x="204.9" y="269.6">2016</text>
<text x="275" y="269.6">2017</text>
<text x="354.9" y="269.6">2018</text>
<text x="424.9" y="269.6">2019</text>
<text x="494.9" y="269.6">2020</text>
</g>
<text x="311.6" y="312.4" font-size="16.2" text-anchor="middle">YEAR</text>
<g font-size="16" text-anchor="middle">
<text transform="translate(61.2,175.3) rotate(-90)">50</text>
<text transform="translate(61.2,110.5) rotate(-90)">100</text>
<text transform="translate(61.2,45.9) rotate(-90)">150</text>
</g>
<text transform="translate(22.6,198.6) rotate(-90)" font-size="16">PM2.5 Concentration<tspan dx="2.5" font-size="13.5">(</tspan><tspan dx="0.3">μg/m</tspan><tspan dy="-9.5" font-size="10">3</tspan><tspan dy="9.5" dx="0.5" font-size="13.5">)</tspan></text>
</svg>
</body></html>
